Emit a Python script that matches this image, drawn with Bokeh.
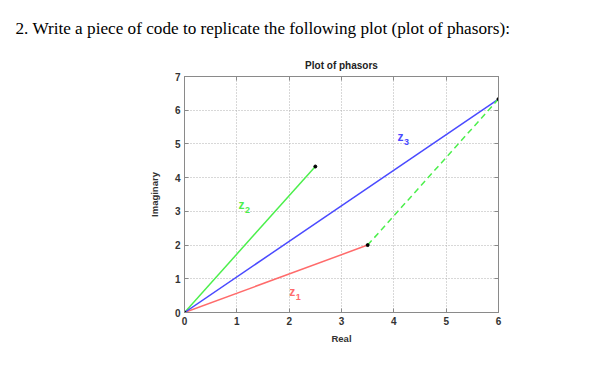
from bokeh.plotting import figure
from bokeh.models import Range1d, LinearAxis, Title, FixedTicker, ColumnDataSource, CustomJSTickFormatter
from bokeh.embed import file_html
from bokeh.resources import INLINE
from bokeh.core.properties import value

# Phasor data
z1 = (3.5, 2.0)
z2 = (2.5, 4.33)
z3 = (6.0, 6.33)
names = ["z", "z", "z"]
subs = ["1", "2", "3"]
label_x = [2.0, 1.03, 4.07]
label_y = [0.6, 3.2, 5.2]
colors = ["#ff6b6b", "#4cef4c", "#4a4aff"]
ticks_x = [0, 1, 2, 3, 4, 5, 6]
ticks_y = [0, 1, 2, 3, 4, 5, 6, 7]

W, H = 583, 363
AX = "#8a8a8a"
p = figure(width=W, height=H, output_backend="svg", toolbar_location=None,
           x_range=Range1d(0, 6), y_range=Range1d(0, 7),
           min_border_left=184, min_border_right=85, min_border_top=76, min_border_bottom=51,
           x_axis_label="Real", y_axis_label="Imaginary")
p.outline_line_color = AX
p.background_fill_color = "white"
p.border_fill_color = "white"

for ax in p.xaxis + p.yaxis:
    ax.major_tick_in = 4
    ax.major_tick_out = 0
    ax.minor_tick_line_color = None
    ax.axis_line_color = AX
    ax.major_tick_line_color = AX
    ax.major_label_text_font = "Liberation Sans"
    ax.major_label_text_font_size = "10px"
    ax.major_label_text_font_style = "bold"
    ax.major_label_text_color = "#333333"
    ax.axis_label_text_font = "Liberation Sans"
    ax.axis_label_text_font_size = "9.5px"
    ax.axis_label_text_font_style = "bold"
    ax.axis_label_text_color = "#333333"
p.xaxis.ticker = FixedTicker(ticks=ticks_x)
p.yaxis.ticker = FixedTicker(ticks=ticks_y)
p.xaxis.major_label_standoff = 4
p.yaxis.major_label_standoff = 4
p.xaxis.axis_label_standoff = 5
p.yaxis.axis_label_standoff = 12

for loc, tk in (("right", ticks_y), ("above", ticks_x)):
    ax = LinearAxis(ticker=FixedTicker(ticks=tk),
                    formatter=CustomJSTickFormatter(code="return ''"),
                    major_tick_in=4, major_tick_out=0, minor_tick_line_color=None,
                    axis_line_color=AX, major_tick_line_color=AX,
                    major_label_standoff=0)
    p.add_layout(ax, loc)

p.grid.grid_line_color = "#b0b0b0"
p.grid.grid_line_dash = "1 2"
p.xgrid.ticker = FixedTicker(ticks=ticks_x)
p.ygrid.ticker = FixedTicker(ticks=ticks_y)

# phasor lines
p.line([0, z1[0]], [0, z1[1]], line_color=colors[0], line_width=1.5)
p.line([0, z2[0]], [0, z2[1]], line_color=colors[1], line_width=1.5)
p.line([0, z3[0]], [0, z3[1]], line_color=colors[2], line_width=1.5)
p.line([z1[0], z3[0]], [z1[1], z3[1]], line_color=colors[1], line_width=1.5, line_dash="6 4")

p.scatter([0, z1[0], z2[0], z3[0]], [0, z1[1], z2[1], z3[1]], size=3, color="black")

src = ColumnDataSource(dict(x=label_x, y=label_y, t=names, s=subs, c=colors))
p.text(x="x", y="y", text="t", text_color="c", source=src, text_font=value("Liberation Sans"),
       text_font_size="12px", text_font_style="bold", text_align="left", text_baseline="middle")
p.text(x="x", y="y", text="s", text_color="c", source=src, text_font=value("Liberation Sans"),
       text_font_size="9px", text_font_style="bold", text_align="left", text_baseline="middle",
       x_offset=6.5, y_offset=5)

# titles stacked above the frame
p.add_layout(Title(text="Plot of phasors", align="center", text_font="Liberation Sans",
                   text_font_size="10px", text_font_style="bold", text_color="#222222",
                   standoff=12), "above")
p.add_layout(Title(text="2. Write a piece of code to replicate the following plot (plot of phasors):",
                   align="left", offset=-169, text_font="Liberation Serif", text_font_size="17.2px",
                   text_font_style="normal", text_color="black", standoff=28), "above")

open("out.html", "w").write(file_html(p, INLINE))
